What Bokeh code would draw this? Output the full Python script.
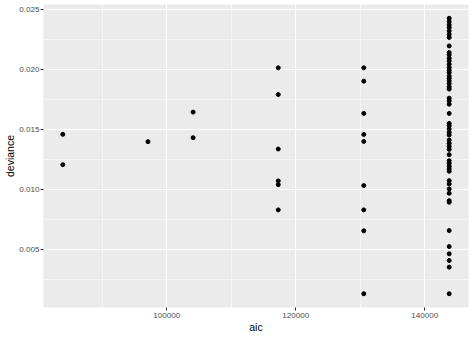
from bokeh.plotting import figure
from bokeh.models import Range1d, FixedTicker, NumeralTickFormatter, ColumnDataSource
from bokeh.embed import file_html
from bokeh.resources import INLINE

# --- data ---
aic_groups = [83900, 97100, 104100, 117300, 130560, 143800]
dev_83900 = [0.01460, 0.01208]
dev_97100 = [0.01399]
dev_104100 = [0.01645, 0.01432]
dev_117300 = [0.02013, 0.01791, 0.01338, 0.01073, 0.01042, 0.00832]
dev_130560 = [0.02013, 0.01902, 0.01634, 0.01459, 0.01401, 0.01034, 0.00832, 0.00658, 0.00135]
dev_143800 = [0.02425, 0.02397, 0.02370, 0.02348, 0.02320, 0.02292, 0.02265, 0.02195,
              0.02140, 0.02121, 0.02093, 0.02071, 0.02043, 0.02016, 0.01994, 0.01974,
              0.01946, 0.01927, 0.01905, 0.01883, 0.01855, 0.01836, 0.01761, 0.01739,
              0.01711, 0.01634, 0.01551, 0.01532, 0.01504, 0.01476, 0.01454, 0.01413,
              0.01385, 0.01360, 0.01335, 0.01291, 0.01241, 0.01219, 0.01194, 0.01172,
              0.01153, 0.01075, 0.01047, 0.01006, 0.00970, 0.00909, 0.00895, 0.00660,
              0.00527, 0.00467, 0.00411, 0.00356, 0.00135]
x_ticks = [100000, 120000, 140000]
x_minor = [90000, 110000, 130000]
y_ticks = [0.005, 0.010, 0.015, 0.020, 0.025]
y_minor = [0.0025, 0.0075, 0.0125, 0.0175, 0.0225]

groups = [dev_83900, dev_97100, dev_104100, dev_117300, dev_130560, dev_143800]
aic = []
deviance = []
for a, devs in zip(aic_groups, groups):
    aic += [a] * len(devs)
    deviance += devs

# ggplot-like 5% expansion
xmin, xmax = min(aic), max(aic)
ymin, ymax = min(deviance), max(deviance)
xe = (xmax - xmin) * 0.05
ye = (ymax - ymin) * 0.05

p = figure(width=474, height=338, output_backend="svg", toolbar_location=None,
           x_range=Range1d(xmin - xe, xmax + xe), y_range=Range1d(ymin - ye, ymax + ye),
           min_border_left=43, min_border_right=6, min_border_top=4, min_border_bottom=31)

p.background_fill_color = "#EBEBEB"
p.border_fill_color = "white"
p.outline_line_color = None

p.xaxis.ticker = FixedTicker(ticks=x_ticks, minor_ticks=x_minor)
p.yaxis.ticker = FixedTicker(ticks=y_ticks, minor_ticks=y_minor)
p.xaxis.formatter = NumeralTickFormatter(format="0")
p.yaxis.formatter = NumeralTickFormatter(format="0.000")

for g in (p.xgrid, p.ygrid):
    g.grid_line_color = "white"
    g.grid_line_width = 1.1
    g.minor_grid_line_color = "white"
    g.minor_grid_line_width = 0.5

for ax in (p.xaxis, p.yaxis):
    ax.axis_line_color = None
    ax.major_tick_line_color = "#333333"
    ax.major_tick_in = 0
    ax.major_tick_out = 3
    ax.minor_tick_line_color = None
    ax.major_label_text_font = "Liberation Sans"
    ax.major_label_text_font_size = "8.1px"
    ax.major_label_text_color = "#4D4D4D"
    ax.major_label_standoff = 1
    ax.axis_label_text_font = "Liberation Sans"
    ax.axis_label_text_font_size = "10.5px"
    ax.axis_label_text_font_style = "normal"
    ax.axis_label_text_color = "black"

p.yaxis.major_label_standoff = 0
p.xaxis.axis_label = "aic"
p.yaxis.axis_label = "deviance"
p.xaxis.axis_label_standoff = 0
p.yaxis.axis_label_standoff = 0

src = ColumnDataSource(dict(aic=aic, deviance=deviance))
p.scatter("aic", "deviance", source=src, size=4, color="black")

open("out.html", "w").write(file_html(p, INLINE))
